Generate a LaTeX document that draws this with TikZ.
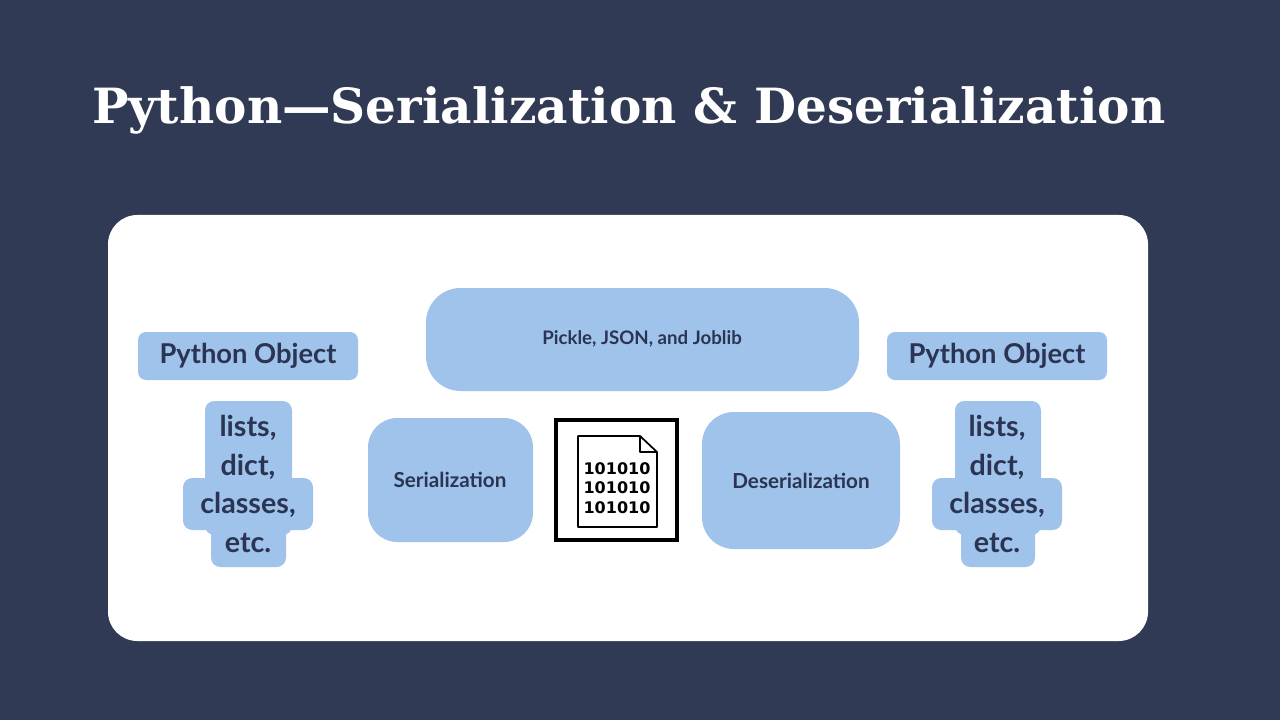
\documentclass[tikz,border=0pt]{standalone}
\usepackage{fontspec}
\setmainfont{Lato}
\newfontfamily\titlefont{DejaVu Serif}
\newfontfamily\monofnt{DejaVu Sans}
\definecolor{bg}{HTML}{313A55}
\definecolor{boxc}{HTML}{9FC3EA}
\definecolor{txt}{HTML}{2B3452}
\tikzset{
  bluebox/.style={fill=boxc,draw=none},
  lbl/.style={text=txt,font=\bfseries,align=center},
}
\begin{document}
\begin{tikzpicture}[x=0.75pt,y=-0.75pt]
\fill[bg] (0,0) rectangle (1280,720);
\useasboundingbox (0,0) rectangle (1280,720);
\node[anchor=west,text=white,font=\titlefont\bfseries\fontsize{36.4}{44}\selectfont,inner sep=0] (title) at (92,110) {Python—Serialization \& Deserialization};
\fill[white,rounded corners=22pt] (108,215) rectangle (1148,641);
% left python object
\fill[bluebox,rounded corners=6pt] (138,332) rectangle (358,380);
\node[lbl,font=\bfseries\fontsize{20.5}{22}\selectfont] (po1) at (248,356) {Python Object};
\fill[bluebox,rounded corners=7pt] (205,401) rectangle (292,535);
\fill[bluebox,rounded corners=7pt] (183,478) rectangle (313,530);
\fill[bluebox,rounded corners=7pt] (211,500) rectangle (286,567);
\node[lbl,font=\bfseries\fontsize{21.5}{29}\selectfont] (l1) at (248,484) {lists,\\dict,\\classes,\\etc.};
% right python object
\fill[bluebox,rounded corners=6pt] (887,332) rectangle (1107,380);
\node[lbl,font=\bfseries\fontsize{20.5}{22}\selectfont] (po2) at (997,356) {Python Object};
\fill[bluebox,rounded corners=7pt] (955,401) rectangle (1041,535);
\fill[bluebox,rounded corners=7pt] (932,478) rectangle (1062,530);
\fill[bluebox,rounded corners=7pt] (961,500) rectangle (1035,567);
\node[lbl,font=\bfseries\fontsize{21.5}{29}\selectfont] (l2) at (997,484) {lists,\\dict,\\classes,\\etc.};
% pickle
\fill[bluebox,rounded corners=26pt] (426,288) rectangle (859,391);
\node[lbl,font=\bfseries\fontsize{14}{16}\selectfont] (pk) at (642,339) {Pickle, JSON, and Joblib};
\fill[bluebox,rounded corners=22pt] (368,418) rectangle (533,542);
\node[lbl,font=\bfseries\fontsize{15.5}{17}\selectfont] (ser) at (450,480) {Serialization};
\fill[bluebox,rounded corners=24pt] (702,412) rectangle (900,549);
\node[lbl,font=\bfseries\fontsize{15.5}{17}\selectfont] (des) at (801,481) {Deserialization};
% file icon
\draw[black,line width=2.4pt] (556,420) rectangle (677,540);
\draw[black,line width=1.3pt,line join=round] (578,436) -- (640,436) -- (657,452) -- (657,527) -- (578,527) -- cycle;
\draw[black,line width=1.3pt,line join=round] (640,436) -- (640,452) -- (657,452);
\node[font=\monofnt\bfseries\fontsize{12}{14.5}\selectfont,align=center,inner sep=0] (bits) at (617,488) {101010\\101010\\101010};
\end{tikzpicture}
\end{document}
